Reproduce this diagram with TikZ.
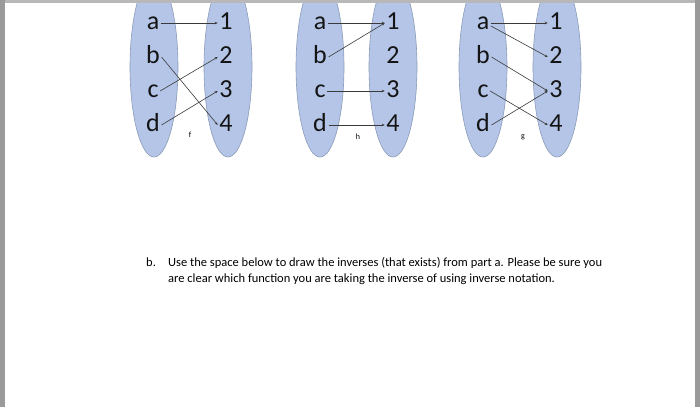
\documentclass[tikz,border=0pt]{standalone}
\usepackage{fontspec}
\setmainfont{Carlito}
\usetikzlibrary{arrows.meta}
\definecolor{setfill}{HTML}{B4C5E7}
\definecolor{setline}{HTML}{8A9BB8}
\definecolor{arr}{HTML}{3A3A3A}
\definecolor{frame}{HTML}{9A9A9A}
\tikzset{
  setell/.style={fill=setfill, draw=setline, line width=0.6pt},
  elem/.style={font=\fontsize{26}{26}\selectfont, text height=12.5pt, text depth=0pt, inner sep=1.5pt, text=black!92},
  maparrow/.style={draw=arr, line width=0.6pt, -{Stealth[length=3pt,width=2.5pt]}},
  fname/.style={font=\fontsize{8}{8}\selectfont, inner sep=0pt},
  para/.style={font=\fontsize{12.5}{14}\selectfont, anchor=base west, inner sep=0pt, text=black}
}
\begin{document}
\begin{tikzpicture}[x=1pt,y=-1pt]
\useasboundingbox (0,0) rectangle (700,407);
\fill[white] (0,0) rectangle (700,407);
\begin{scope}
\clip (0,0) rectangle (700,407);
\foreach \cx in {154,228,320,393,483,557}{
  \path[setell] (\cx,67) ellipse [x radius=24, y radius=90];
}
\end{scope}
% frame of the page
\fill[frame!70] (0,0) rectangle (700,2.5);
\fill[frame] (0,0) rectangle (5,407);
\fill[frame] (695,0) rectangle (700,407);

% function f
\node[elem] (fa) at (153,23) {a};
\node[elem] (fb) at (153,57) {b};
\node[elem] (fc) at (153,91) {c};
\node[elem] (fd) at (153,125) {d};
\node[elem] (f1) at (226,23) {1};
\node[elem] (f2) at (226,57) {2};
\node[elem] (f3) at (226,91) {3};
\node[elem] (f4) at (226,125) {4};
\draw[maparrow] (fa.east) -- (f1.west);
\draw[maparrow] (fb.east) -- (f4.west);
\draw[maparrow] (fc.east) -- (f2.west);
\draw[maparrow] (fd.east) -- (f3.west);
\node[fname] (fl) at (190,135) {f};

% function h
\node[elem] (ha) at (320,23) {a};
\node[elem] (hb) at (320,57) {b};
\node[elem] (hc) at (320,91) {c};
\node[elem] (hd) at (320,125) {d};
\node[elem] (h1) at (393,23) {1};
\node[elem] (h2) at (393,57) {2};
\node[elem] (h3) at (393,91) {3};
\node[elem] (h4) at (393,125) {4};
\draw[maparrow] (ha.east) -- (h1.west);
\draw[maparrow] (hb.east) -- (h1.west);
\draw[maparrow] (hc.east) -- (h3.west);
\draw[maparrow] (hd.east) -- (h4.west);
\node[fname] (hl) at (358,137) {h};

% function g
\node[elem] (ga) at (483,23) {a};
\node[elem] (gb) at (483,57) {b};
\node[elem] (gc) at (483,91) {c};
\node[elem] (gd) at (483,125) {d};
\node[elem] (g1) at (556,23) {1};
\node[elem] (g2) at (556,57) {2};
\node[elem] (g3) at (556,91) {3};
\node[elem] (g4) at (556,125) {4};
\draw[maparrow] (ga.east) -- (g1.west);
\draw[maparrow] ([yshift=-3pt]ga.east) -- (g2.west);
\draw[maparrow] (gb.east) -- (g3.west);
\draw[maparrow] (gc.east) -- (g4.west);
\draw[maparrow] (gd.east) -- (g3.west);
\node[fname] (gl) at (523,137) {g};

% part b text
\node[para] (pb) at (146,266) {b.};
\node[para] (l1) at (168,266) {Use the space below to draw the inverses (that exists) from part a. Please be sure you};
\node[para] (l2) at (168,282) {are clear which function you are taking the inverse of using inverse notation.};
\end{tikzpicture}
\end{document}
